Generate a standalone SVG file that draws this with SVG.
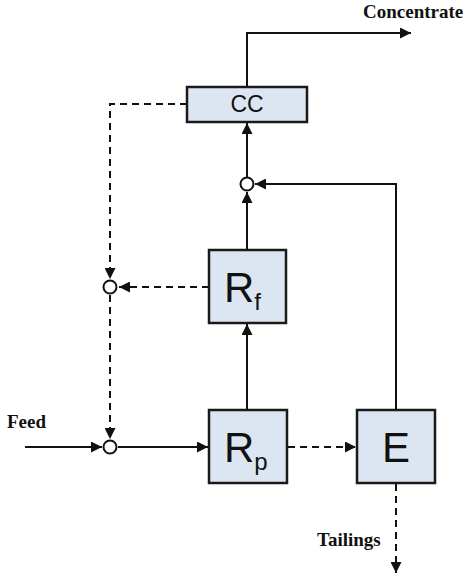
<svg xmlns="http://www.w3.org/2000/svg" width="474" height="579" viewBox="0 0 474 579">
<style>
.box{fill:#dce6f2;stroke:#1a1a1a;stroke-width:2.5}
.ln{fill:none;stroke:#111;stroke-width:2}
.dash{stroke-dasharray:7,5}
.mix{fill:#fff;stroke:#111;stroke-width:2}
.lbl{font-family:"Liberation Serif",serif;font-weight:bold;font-size:19px;fill:#111}
.sym{font-family:"Liberation Sans",Arial,sans-serif;fill:#111}
</style>
<defs>
<marker id="ah" viewBox="0 0 10 10" refX="10" refY="5" markerWidth="5.5" markerHeight="5.5" orient="auto" markerUnits="strokeWidth">
<path d="M0,0 L10,5 L0,10 z" fill="#111"/>
</marker>
</defs>
<rect width="474" height="579" fill="#fff"/>
<g id="connectors">
<polyline class="ln" points="247,87 247,33 411,33" marker-end="url(#ah)"/>
<line class="ln" x1="247" y1="177" x2="247" y2="123" marker-end="url(#ah)"/>
<line class="ln" x1="247" y1="250" x2="247" y2="192" marker-end="url(#ah)"/>
<polyline class="ln" points="396,410 396,184 255,184" marker-end="url(#ah)"/>
<line class="ln" x1="247" y1="410" x2="247" y2="324" marker-end="url(#ah)"/>
<line class="ln" x1="25" y1="447" x2="102" y2="447" marker-end="url(#ah)"/>
<line class="ln" x1="118" y1="447" x2="208" y2="447" marker-end="url(#ah)"/>
<polyline class="ln dash" points="187,104 110,104 110,279" marker-end="url(#ah)"/>
<line class="ln dash" x1="209" y1="287" x2="119" y2="287" marker-end="url(#ah)"/>
<line class="ln dash" x1="110" y1="295" x2="110" y2="439" marker-end="url(#ah)"/>
<line class="ln dash" x1="288" y1="447" x2="356" y2="447" marker-end="url(#ah)"/>
<line class="ln dash" x1="396" y1="484" x2="396" y2="573" marker-end="url(#ah)"/>
</g>
<g id="concentrate"><text class="lbl" x="363" y="18">Concentrate</text></g>
<g id="feed"><text class="lbl" x="7" y="428">Feed</text></g>
<g id="tailings"><text class="lbl" x="317" y="546">Tailings</text></g>
<g id="CC">
<rect class="box" x="187" y="87" width="120" height="35"/>
<text class="sym" x="247" y="112" font-size="23" text-anchor="middle">CC</text>
</g>
<g id="Rf">
<rect class="box" x="209" y="250" width="77" height="73"/>
<text class="sym" x="224" y="302" font-size="42">R<tspan font-size="24" dy="8">f</tspan></text>
</g>
<g id="Rp">
<rect class="box" x="209" y="410" width="78" height="73"/>
<text class="sym" x="224" y="462" font-size="42">R<tspan font-size="24" dy="8">p</tspan></text>
</g>
<g id="E">
<rect class="box" x="357" y="410" width="78" height="73"/>
<text class="sym" x="396" y="462" font-size="42" text-anchor="middle">E</text>
</g>
<g id="mixer-top"><circle class="mix" cx="247" cy="184" r="6.5"/></g>
<g id="mixer-mid"><circle class="mix" cx="110" cy="287" r="6.5"/></g>
<g id="mixer-feed"><circle class="mix" cx="110" cy="447" r="6.5"/></g>
</svg>
